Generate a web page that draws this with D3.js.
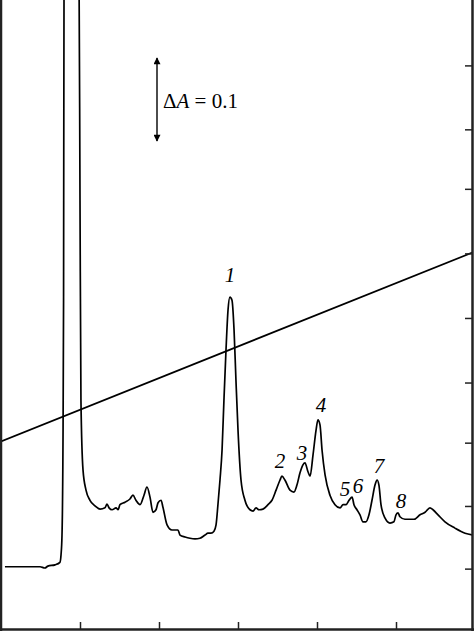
<!DOCTYPE html>
<html><head><meta charset="utf-8">
<script src="https://cdn.jsdelivr.net/npm/d3@7"></script>
<style>body{margin:0;background:#fff}</style>
</head><body><div id="chart"></div>
<script>
// 保持時間 (min) と吸光度 (0.1 単位)
const time = [0.25,2.47,2.78,2.97,3.42,3.73,3.80,3.86,3.92,3.96,3.99,4.49,4.94,5.0,5.06,5.19,5.38,5.63,5.95,6.27,6.58,6.71,6.84,7.03,7.28,7.41,7.53,7.85,8.16,8.35,8.54,8.8,9.05,9.24,9.43,9.62,9.81,9.94,10.13,10.25,10.51,10.82,11.2,11.33,11.65,11.96,12.28,12.59,12.91,13.1,13.29,13.48,13.61,13.73,13.86,13.99,14.11,14.24,14.37,14.49,14.62,14.75,14.87,15.0,15.19,15.44,15.76,15.95,16.14,16.33,16.58,16.9,17.15,17.41,17.66,17.78,17.97,18.29,18.54,18.73,18.92,19.11,19.24,19.43,19.56,19.75,19.94,20.06,20.19,20.32,20.51,20.82,21.14,21.46,21.65,21.84,22.03,22.22,22.34,22.53,22.72,22.91,23.1,23.29,23.48,23.67,23.8,23.92,24.05,24.3,24.62,24.87,25.0,25.13,25.25,25.57,25.89,26.14,26.52,26.84,27.15,27.34,27.66,28.1,28.73,29.37,29.94];
const absorb = [0.02,0.02,0,0.03,0.05,0.09,0.21,0.51,1.86,4.23,9.29,9.92,9.29,5.81,2.65,1.55,1.23,1.07,0.98,0.93,0.95,1.01,0.95,0.92,0.95,0.92,1.0,1.04,1.09,1.15,1.07,1.0,1.15,1.28,1.12,0.88,0.92,1.03,1.07,0.96,0.68,0.6,0.6,0.52,0.49,0.47,0.46,0.47,0.52,0.55,0.55,0.58,0.68,1.0,1.39,1.86,2.65,3.44,4.08,4.28,4.23,3.76,2.97,2.18,1.39,1.07,0.92,0.9,0.95,0.92,0.93,1.0,1.07,1.23,1.39,1.45,1.39,1.23,1.2,1.31,1.5,1.63,1.66,1.52,1.45,1.79,2.18,2.34,2.26,1.86,1.47,1.15,1.0,0.95,1.0,1.0,1.07,1.12,1.0,0.92,0.84,0.73,0.73,0.84,1.07,1.31,1.39,1.31,1.0,0.79,0.71,0.73,0.84,0.87,0.81,0.77,0.77,0.77,0.84,0.88,0.95,0.92,0.84,0.73,0.63,0.55,0.52];
// 直線 (グラジエント)
const gradT = [0, 30];
const gradA = [2.0, 5.0];
const rightTicks = [-0.01,0.98,1.98,2.93,3.95,4.97,5.99,6.93,7.94];
const bottomTicks = [5, 10, 15, 20, 25];
const peakLabels = ["1","2","3","4","5","6","7","8"];
const peakT = [14.49, 17.66, 19.05, 20.25, 21.77, 22.6, 23.92, 25.32];
const peakA = [4.52, 1.58, 1.71, 2.46, 1.14, 1.18, 1.5, 0.95];

const width = 474, height = 631;
const svg = d3.select("#chart").append("svg").attr("width", width).attr("height", height);

const x = d3.scaleLinear().domain([0, 30]).range([1, 475]);
const y = d3.scaleLinear().domain([0, 1]).range([568, 504.7]);

svg.append("clipPath").attr("id", "clip").append("rect").attr("x", 1).attr("y", 0).attr("width", 471).attr("height", 629);

const g = svg.append("g").attr("clip-path", "url(#clip)");

// クロマトグラム
const trace = time.map((t, i) => [t, absorb[i]]);
g.append("path").datum(trace)
  .attr("fill", "none").attr("stroke", "#000").attr("stroke-width", 1.7)
  .attr("d", d3.line().x(d => x(d[0])).y(d => y(d[1])).curve(d3.curveMonotoneX));

g.append("line")
  .attr("x1", x(gradT[0])).attr("y1", y(gradA[0])).attr("x2", x(gradT[1])).attr("y2", y(gradA[1]))
  .attr("stroke", "#000").attr("stroke-width", 1.7);

// 枠
svg.append("line").attr("x1", 1).attr("x2", 1).attr("y1", 0).attr("y2", 631).attr("stroke", "#222").attr("stroke-width", 2.5);
svg.append("line").attr("x1", 472.5).attr("x2", 472.5).attr("y1", 0).attr("y2", 631).attr("stroke", "#222").attr("stroke-width", 2.5);
svg.append("line").attr("x1", 0).attr("x2", 474).attr("y1", 629.5).attr("y2", 629.5).attr("stroke", "#222").attr("stroke-width", 2.5);

svg.append("g").attr("transform", "translate(472,0)")
  .call(d3.axisLeft(y).tickValues(rightTicks).tickSize(7).tickFormat(""))
  .call(a => a.select(".domain").remove());
svg.append("g").attr("transform", "translate(0,629)")
  .call(d3.axisTop(x).tickValues(bottomTicks).tickSize(7).tickFormat(""))
  .call(a => a.select(".domain").remove());
svg.selectAll(".tick line").attr("stroke", "#222").attr("stroke-width", 1.5);

// ピーク番号
svg.selectAll("text.peak").data(peakLabels).enter().append("text")
  .attr("class", "peak")
  .attr("x", (d, i) => x(peakT[i])).attr("y", (d, i) => y(peakA[i]))
  .attr("text-anchor", "middle")
  .attr("font-family", "Liberation Serif, serif").attr("font-style", "italic").attr("font-size", 21)
  .text(d => d);

// ΔA スケール
const defs = svg.append("defs");
defs.append("marker").attr("id", "arr").attr("viewBox", "0 0 10 10").attr("refX", 9).attr("refY", 5)
  .attr("markerWidth", 12).attr("markerHeight", 7).attr("orient", "auto-start-reverse").attr("markerUnits", "userSpaceOnUse")
  .append("path").attr("d", "M0,0 L10,5 L0,10 z").attr("fill", "#000");
svg.append("line").attr("x1", 157).attr("x2", 157).attr("y1", 58).attr("y2", 141)
  .attr("stroke", "#000").attr("stroke-width", 1.4)
  .attr("marker-start", "url(#arr)").attr("marker-end", "url(#arr)");
const lab = svg.append("text").attr("x", 163).attr("y", 108)
  .attr("font-family", "Liberation Serif, serif").attr("font-size", 21);
lab.append("tspan").text("Δ");
lab.append("tspan").attr("font-style", "italic").text("A");
lab.append("tspan").text(" = 0.1");
</script>
</body></html>
